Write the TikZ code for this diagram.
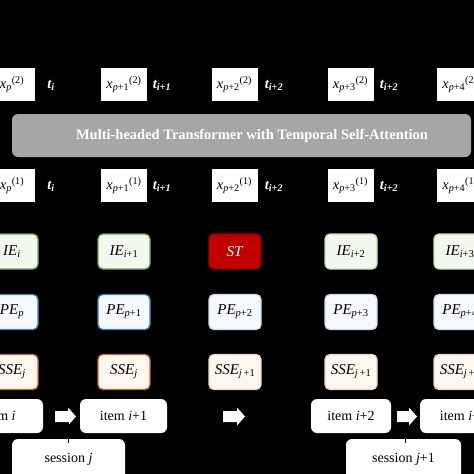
\documentclass[tikz,border=0pt]{standalone}
\usepackage{fontspec}
\setmainfont{Liberation Serif}
\definecolor{iefill}{HTML}{F3F8EE}
\definecolor{iedark}{HTML}{6FA650}
\definecolor{ielight}{HTML}{C9DDB8}
\definecolor{pefill}{HTML}{F5F8FC}
\definecolor{pedark}{HTML}{4A82C0}
\definecolor{pelight}{HTML}{CCDCEE}
\definecolor{ssefill}{HTML}{FDF7F2}
\definecolor{ssedark}{HTML}{C96A35}
\definecolor{sselight}{HTML}{EED6C6}
\definecolor{stred}{HTML}{C00000}
\definecolor{bannergray}{HTML}{A6A6A6}
\newcommand{\sub}[1]{\textsubscript{#1}}
\begin{document}
\begin{tikzpicture}[x=1pt,y=-1pt,
  xbox/.style={fill=white,minimum width=46,minimum height=33,inner sep=0,font=\fontsize{14.5}{16}\selectfont},
  tlab/.style={text=white,inner sep=0,font=\fontsize{14.5}{16}\selectfont\bfseries\itshape},
  banner/.style={fill=bannergray,rounded corners=6pt,minimum width=459,minimum height=43,inner sep=0},
  bannertext/.style={inner sep=0,text=white,font=\fontsize{14.5}{16}\selectfont\bfseries},
  emb/.style={rounded corners=5pt,minimum width=52,minimum height=35,inner sep=0,line width=1.3pt,font=\fontsize{15}{17}\selectfont},
  ie/.style={emb,fill=iefill,draw=iedark},
  iel/.style={emb,fill=iefill,draw=ielight},
  pe/.style={emb,fill=pefill,draw=pedark},
  pel/.style={emb,fill=pefill,draw=pelight},
  sse/.style={emb,fill=ssefill,draw=ssedark},
  ssel/.style={emb,fill=ssefill,draw=sselight},
  stbox/.style={emb,fill=stred,draw=stred!80!black,text=white},
  itembox/.style={fill=white,rounded corners=6pt,minimum height=34,inner sep=0,font=\fontsize{14}{16}\selectfont},
  sessbox/.style={fill=white,rounded corners=6pt,minimum height=50,inner sep=0,font=\fontsize{14}{16}\selectfont},
  blockarr/.style={fill=white},
  tick/.style={black,line width=0.9pt}
]
\fill[black] (0,0) rectangle (474,474);
\clip (0,0) rectangle (474,474);

% top row x^(2)
\node[xbox] (xa2) at (12,84.5) {\textit{x}\sub{\textit{p}}\textsuperscript{(2)}};
\node[xbox] (xb2) at (124,84.5) {\textit{x}\sub{\textit{p}+1}\textsuperscript{(2)}};
\node[xbox] (xc2) at (234.5,84.5) {\textit{x}\sub{\textit{p}+2}\textsuperscript{(2)}};
\node[xbox] (xd2) at (350.5,84.5) {\textit{x}\sub{\textit{p}+3}\textsuperscript{(2)}};
\node[xbox] (xe2) at (460,84.5) {\textit{x}\sub{\textit{p}+4}\textsuperscript{(2)}};
\node[tlab] (ta2) at (51,85) {t\sub{i}};
\node[tlab] (tb2) at (162,85) {t\sub{i+1}};
\node[tlab] (tc2) at (274,85) {t\sub{i+2}};
\node[tlab] (td2) at (389,85) {t\sub{i+2}};

% banner
\node[banner] (tr) at (241.5,135.5) {};
\node[bannertext] (trt) at (252,135.5) {Multi-headed Transformer with Temporal Self-Attention};

% row x^(1)
\node[xbox] (xa1) at (12,185.5) {\textit{x}\sub{\textit{p}}\textsuperscript{(1)}};
\node[xbox] (xb1) at (124,185.5) {\textit{x}\sub{\textit{p}+1}\textsuperscript{(1)}};
\node[xbox] (xc1) at (234.5,185.5) {\textit{x}\sub{\textit{p}+2}\textsuperscript{(1)}};
\node[xbox] (xd1) at (350.5,185.5) {\textit{x}\sub{\textit{p}+3}\textsuperscript{(1)}};
\node[xbox] (xe1) at (460,185.5) {\textit{x}\sub{\textit{p}+4}\textsuperscript{(1)}};
\node[tlab] (ta1) at (51,186) {t\sub{i}};
\node[tlab] (tb1) at (162,186) {t\sub{i+1}};
\node[tlab] (tc1) at (274,186) {t\sub{i+2}};
\node[tlab] (td1) at (389,186) {t\sub{i+2}};

% IE row
\node[ie] (iea) at (12,251.5) {\textit{IE}\sub{\textit{i}}};
\node[ie] (ieb) at (124,251.5) {\textit{IE}\sub{\textit{i}+1}};
\node[stbox] (st) at (235,251.5) {\textit{ST}};
\node[iel] (ied) at (351,251.5) {\textit{IE}\sub{\textit{i}+2}};
\node[iel] (iee) at (460,251.5) {\textit{IE}\sub{\textit{i}+3}};

% PE row
\node[pe] (pea) at (12,312) {\textit{PE}\sub{\textit{p}}};
\node[pe] (peb) at (124,312) {\textit{PE}\sub{\textit{p}+1}};
\node[pel] (pec) at (235,312) {\textit{PE}\sub{\textit{p}+2}};
\node[pel] (ped) at (351,312) {\textit{PE}\sub{\textit{p}+3}};
\node[pel] (pee) at (460,312) {\textit{PE}\sub{\textit{p}+4}};

% SSE row
\node[sse] (ssea) at (12,372) {\textit{SSE}\sub{\textit{j}}};
\node[sse] (sseb) at (124,372) {\textit{SSE}\sub{\textit{j}}};
\node[ssel] (ssec) at (235,372) {\textit{SSE}\sub{\textit{j}\,+1}};
\node[ssel] (ssed) at (351,372) {\textit{SSE}\sub{\textit{j}\,+1}};
\node[ssel] (ssee) at (460,372) {\textit{SSE}\sub{\textit{j}\,+1}};

% item row
\node[itembox,minimum width=87] (ita) at (-0.5,416) {item \textit{i}};
\node[itembox,minimum width=87] (itb) at (123.5,416) {item \textit{i}+1};
\node[itembox,minimum width=80] (itc) at (351,416) {item \textit{i}+2};
\node[itembox,minimum width=87] (itd) at (463.5,416) {item \textit{i}+3};

% sessions
\node[sessbox,minimum width=113] (sj) at (68.5,464) {};
\node[font=\fontsize{14}{16}\selectfont,inner sep=0] (sjt) at (68.5,459) {session \textit{j}};
\node[sessbox,minimum width=115] (sk) at (403.5,464) {};
\node[font=\fontsize{14}{16}\selectfont,inner sep=0] (skt) at (403.5,459) {session \textit{j}+1};

% block arrows
\foreach \xa/\xb in {55/76, 223/245, 397/417}{
  \fill[blockarr] (\xa,411) -- (\xb-8,411) -- (\xb-8,407.5) -- (\xb,416.5) -- (\xb-8,425.5) -- (\xb-8,422) -- (\xa,422) -- cycle;
}
\coordinate (aa) at (68,422);
\coordinate (ac) at (405,422);
\draw[tick] (aa) -- ([yshift=-4pt]aa |- sj.north);
\draw[tick] (ac) -- ([yshift=-4pt]ac |- sk.north);
\end{tikzpicture}
\end{document}
